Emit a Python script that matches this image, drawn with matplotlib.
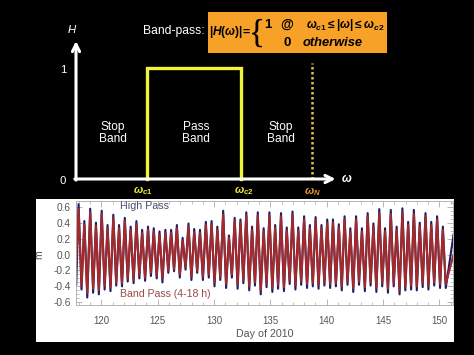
import matplotlib
matplotlib.use('Agg')
import matplotlib.pyplot as plt
from matplotlib.patches import Rectangle

plt.rcParams['font.family'] = ['Liberation Sans', 'DejaVu Sans']
plt.rcParams['mathtext.fontset'] = 'custom'
plt.rcParams['mathtext.it'] = 'Liberation Sans:italic:bold'
plt.rcParams['mathtext.rm'] = 'Liberation Sans:bold'
plt.rcParams['mathtext.bf'] = 'Liberation Sans:bold'

# --- schematic (omega in units of the Nyquist freq) ---
w_c1 = 0.3
w_c2 = 0.7
w_N = 1.0
w_axis_end = 1.1
H_axis_end = 1.24
H_pass = 1.0

# --- tidal series, extrema ---
peak_days = [117.98, 118.49, 119.01, 119.52, 120.03, 120.55, 121.06, 121.57,
             122.08, 122.60, 123.11, 123.62, 124.14, 124.65, 125.16, 125.68,
             126.19, 126.70, 127.21, 127.73, 128.24, 128.75, 129.27, 129.78,
             130.29, 130.81, 131.32, 131.83, 132.34, 132.86, 133.37, 133.88,
             134.40, 134.91, 135.42, 135.94, 136.45, 136.96, 137.47, 137.99,
             138.50, 139.01, 139.53, 140.04, 140.55, 141.07, 141.58, 142.09,
             142.60, 143.12, 143.63, 144.14, 144.66, 145.17, 145.68, 146.20,
             146.71, 147.22, 147.73, 148.25, 148.76, 149.27, 149.79, 150.30]
trough_days = [118.24, 118.75, 119.27, 119.78, 120.29, 120.81, 121.32, 121.83,
               122.34, 122.86, 123.37, 123.88, 124.40, 124.91, 125.42, 125.94,
               126.45, 126.96, 127.47, 127.99, 128.50, 129.01, 129.53, 130.04,
               130.55, 131.07, 131.58, 132.09, 132.60, 133.12, 133.63, 134.14,
               134.66, 135.17, 135.68, 136.20, 136.71, 137.22, 137.73, 138.25,
               138.76, 139.27, 139.79, 140.30, 140.81, 141.33, 141.84, 142.35,
               142.86, 143.38, 143.89, 144.40, 144.92, 145.43, 145.94, 146.46,
               146.97, 147.48, 147.99, 148.51, 149.02, 149.53, 150.05, 150.56]

hp_peaks = [0.63, 0.42, 0.575, 0.40, 0.55, 0.37, 0.50, 0.37, 0.46, 0.35, 0.42,
            0.31, 0.35, 0.33, 0.29, 0.31, 0.31, 0.37, 0.21, 0.39, 0.32, 0.31,
            0.41, 0.42, 0.35, 0.55, 0.24, 0.46, 0.44, 0.53, 0.35, 0.53, 0.33,
            0.53, 0.37, 0.52, 0.34, 0.54, 0.34, 0.48, 0.37, 0.47, 0.37, 0.44,
            0.44, 0.38, 0.48, 0.33, 0.48, 0.33, 0.52, 0.39, 0.57, 0.33, 0.56,
            0.35, 0.58, 0.41, 0.56, 0.40, 0.52, 0.41, 0.48, 0.35]
hp_troughs = [-0.44, -0.54, -0.48, -0.50, -0.44, -0.46, -0.39, -0.40, -0.34,
              -0.36, -0.30, -0.33, -0.27, -0.30, -0.35, -0.23, -0.21, -0.29,
              -0.19, -0.32, -0.23, -0.32, -0.29, -0.40, -0.32, -0.42, -0.29,
              -0.43, -0.36, -0.45, -0.39, -0.50, -0.41, -0.47, -0.43, -0.46,
              -0.37, -0.44, -0.38, -0.42, -0.40, -0.43, -0.39, -0.42, -0.40,
              -0.45, -0.38, -0.47, -0.38, -0.46, -0.39, -0.47, -0.40, -0.48,
              -0.40, -0.50, -0.45, -0.44, -0.45, -0.41, -0.44, -0.39, -0.42,
              -0.42]
bp_peaks = [0.57, 0.38, 0.53, 0.36, 0.51, 0.33, 0.46, 0.33, 0.42, 0.31, 0.38,
            0.27, 0.31, 0.29, 0.25, 0.27, 0.27, 0.33, 0.18, 0.35, 0.28, 0.27,
            0.37, 0.38, 0.31, 0.50, 0.21, 0.42, 0.40, 0.49, 0.31, 0.49, 0.29,
            0.49, 0.33, 0.48, 0.30, 0.50, 0.30, 0.44, 0.33, 0.43, 0.33, 0.40,
            0.40, 0.34, 0.44, 0.29, 0.44, 0.29, 0.48, 0.35, 0.52, 0.29, 0.51,
            0.31, 0.53, 0.37, 0.51, 0.36, 0.48, 0.37, 0.44, 0.31]
bp_troughs = [-0.39, -0.48, -0.43, -0.45, -0.39, -0.41, -0.35, -0.36, -0.30,
              -0.32, -0.26, -0.29, -0.23, -0.26, -0.30, -0.20, -0.18, -0.25,
              -0.16, -0.28, -0.20, -0.28, -0.25, -0.35, -0.28, -0.37, -0.25,
              -0.38, -0.32, -0.40, -0.35, -0.45, -0.37, -0.42, -0.38, -0.41,
              -0.33, -0.39, -0.34, -0.37, -0.36, -0.38, -0.35, -0.37, -0.36,
              -0.40, -0.34, -0.42, -0.34, -0.41, -0.35, -0.42, -0.36, -0.43,
              -0.36, -0.45, -0.40, -0.39, -0.40, -0.37, -0.39, -0.35, -0.37,
              -0.37]
# first / last samples at the plot edges
edge_days = [117.77, 151.25]
hp_edges = [-0.38, 0.25]
bp_edges = [-0.10, 0.00]

y_ticks = [-0.6, -0.4, -0.2, 0.0, 0.2, 0.4, 0.6]
x_ticks = [120, 125, 130, 135, 140, 145, 150]


def zigzag(start, peaks, troughs, end):
    out = [start]
    for p, t in zip(peaks, troughs):
        out += [p, t]
    out.append(end)
    return out


days = zigzag(edge_days[0], peak_days, trough_days, edge_days[1])
hp = zigzag(hp_edges[0], hp_peaks, hp_troughs, hp_edges[1])
bp = zigzag(bp_edges[0], bp_peaks, bp_troughs, bp_edges[1])

W, Hpx = 474, 355


def fx(x):
    return x / W


def fy(y):
    return 1 - y / Hpx


fig = plt.figure(figsize=(4.74, 3.55), dpi=100, facecolor='black')

# top schematic, axes spanning whole figure, origin at pixel (76, 179)
ax = fig.add_axes([0, 0, 1, 1])
ax.set_facecolor('black')
ax.set_xlim(-76 / 236, (W - 76) / 236)
ax.set_ylim(-(Hpx - 179) / 111.3, 179 / 111.3)
ax.axis('off')

ax.annotate('', xy=(0, H_axis_end), xytext=(0, -0.01),
            arrowprops=dict(arrowstyle='->', color='white', lw=2.2,
                            mutation_scale=13, shrinkA=0, shrinkB=0))
ax.annotate('', xy=(w_axis_end, 0), xytext=(-0.005, 0),
            arrowprops=dict(arrowstyle='->', color='white', lw=2.2,
                            mutation_scale=13, shrinkA=0, shrinkB=0))
ax.plot([w_c1, w_c1, w_c2, w_c2], [0, H_pass, H_pass, 0], color='#f2f23a',
        lw=2.4, solid_joinstyle='miter')
ax.plot([w_N, w_N], [0, 1.045], color='#e6c24a', lw=1.8, ls=(0, (1, 1)))

fig.text(fx(72), fy(30), 'H', color='white', fontsize=8.2, style='italic',
         ha='center', va='center')
fig.text(fx(63), fy(70), '1', color='white', fontsize=8.2, ha='center', va='center')
fig.text(fx(63), fy(181), '0', color='white', fontsize=8.2, ha='center', va='center')
fig.text(fx(347), fy(178.5), r'$\omega$', color='white', fontsize=8.5,
         ha='center', va='center')
fig.text(fx(143), fy(191), r'$\omega_{c1}$', color='#ecec3a', fontsize=8,
         ha='center', va='center')
fig.text(fx(244), fy(191), r'$\omega_{c2}$', color='#ecec3a', fontsize=8,
         ha='center', va='center')
fig.text(fx(313), fy(192), r'$\omega_{N}$', color='#e69a2a', fontsize=8,
         ha='center', va='center')
for cx, s in [(113, 'Stop\nBand'), (196, 'Pass\nBand'), (281, 'Stop\nBand')]:
    fig.text(fx(cx), fy(133), s, color='white', fontsize=8.6, ha='center',
             va='center', linespacing=1.05)

fig.text(fx(143), fy(31), 'Band-pass:', color='white', fontsize=8.7,
         ha='left', va='center')
fig.patches.append(Rectangle((fx(207.7), fy(53.3)), fx(179), 41.3 / Hpx,
                             transform=fig.transFigure, facecolor='#f7a128',
                             edgecolor='none'))
fig.text(fx(209), fy(32.5), r'$|H(\omega)|$', color='black', fontsize=8.6,
         ha='left', va='center')
fig.text(fx(246), fy(33), '=', color='black', fontsize=9, weight='bold',
         ha='center', va='center')
fig.text(fx(257), fy(33.5), '{', color='black', fontsize=24,
         family='Liberation Serif', ha='center', va='center')
fig.text(fx(264), fy(25), '1', color='black', fontsize=9.5, weight='bold',
         ha='left', va='center')
fig.text(fx(280), fy(25), '@', color='black', fontsize=9.5, weight='bold',
         ha='left', va='center')
fig.text(fx(306), fy(25), r'$\omega_{c1} \leq |\omega| \leq \omega_{c2}$',
         color='black', fontsize=8.6, ha='left', va='center')
fig.text(fx(283), fy(42.5), '0', color='black', fontsize=9.5, weight='bold',
         ha='left', va='center')
fig.text(fx(303), fy(42.5), 'otherwise', color='black', fontsize=9.3,
         weight='bold', style='italic', ha='left', va='center')

# bottom white panel and tide plot
panel = fig.add_axes([fx(36), fy(342), (454 - 36) / W, (342 - 199.5) / Hpx])
panel.set_facecolor('white')
panel.set_xticks([])
panel.set_yticks([])
for s in panel.spines.values():
    s.set_visible(False)

gray = '#555555'
bx = fig.add_axes([fx(76), fy(305), (453 - 76) / W, (305 - 201) / Hpx])
bx.set_facecolor('white')
bx.plot(days, hp, color='#1c1f66', lw=1.5)
bx.plot(days, bp, color='#a3292b', lw=1.5)
bx.set_xlim(117.75, 151.2)
bx.set_ylim(-0.634, 0.672)
bx.set_xticks(x_ticks)
bx.set_yticks(y_ticks)
bx.set_yticklabels(['%.1f' % v for v in y_ticks])
bx.set_xticks(range(118, 152), minor=True)
bx.set_yticks([v / 20 for v in range(-12, 14)], minor=True)
bx.tick_params(which='both', direction='in', top=True, right=True,
               color='#aaaaaa', labelcolor=gray)
bx.tick_params(which='major', length=4, width=0.6)
bx.tick_params(which='minor', length=2, width=0.5)
bx.tick_params(axis='x', labelsize=7, pad=8)
bx.tick_params(axis='y', labelsize=7.3, pad=4)
for s in bx.spines.values():
    s.set_color('#aaaaaa')
    s.set_linewidth(0.6)
bx.set_xlabel('Day of 2010', color=gray, fontsize=7.7, labelpad=2)
fig.text(fx(39), fy(254.5), 'm', color=gray, fontsize=7.5, rotation=90,
         ha='center', va='center')
bx.text(0.118, 0.95, 'High Pass', color='#4a4e6e', fontsize=7.7,
        transform=bx.transAxes, ha='left', va='center')
bx.text(0.118, 0.11, 'Band Pass (4-18 h)', color='#9a4a4a', fontsize=7.6,
        transform=bx.transAxes, ha='left', va='center')

fig.savefig('out.png', dpi=100, facecolor='black')
